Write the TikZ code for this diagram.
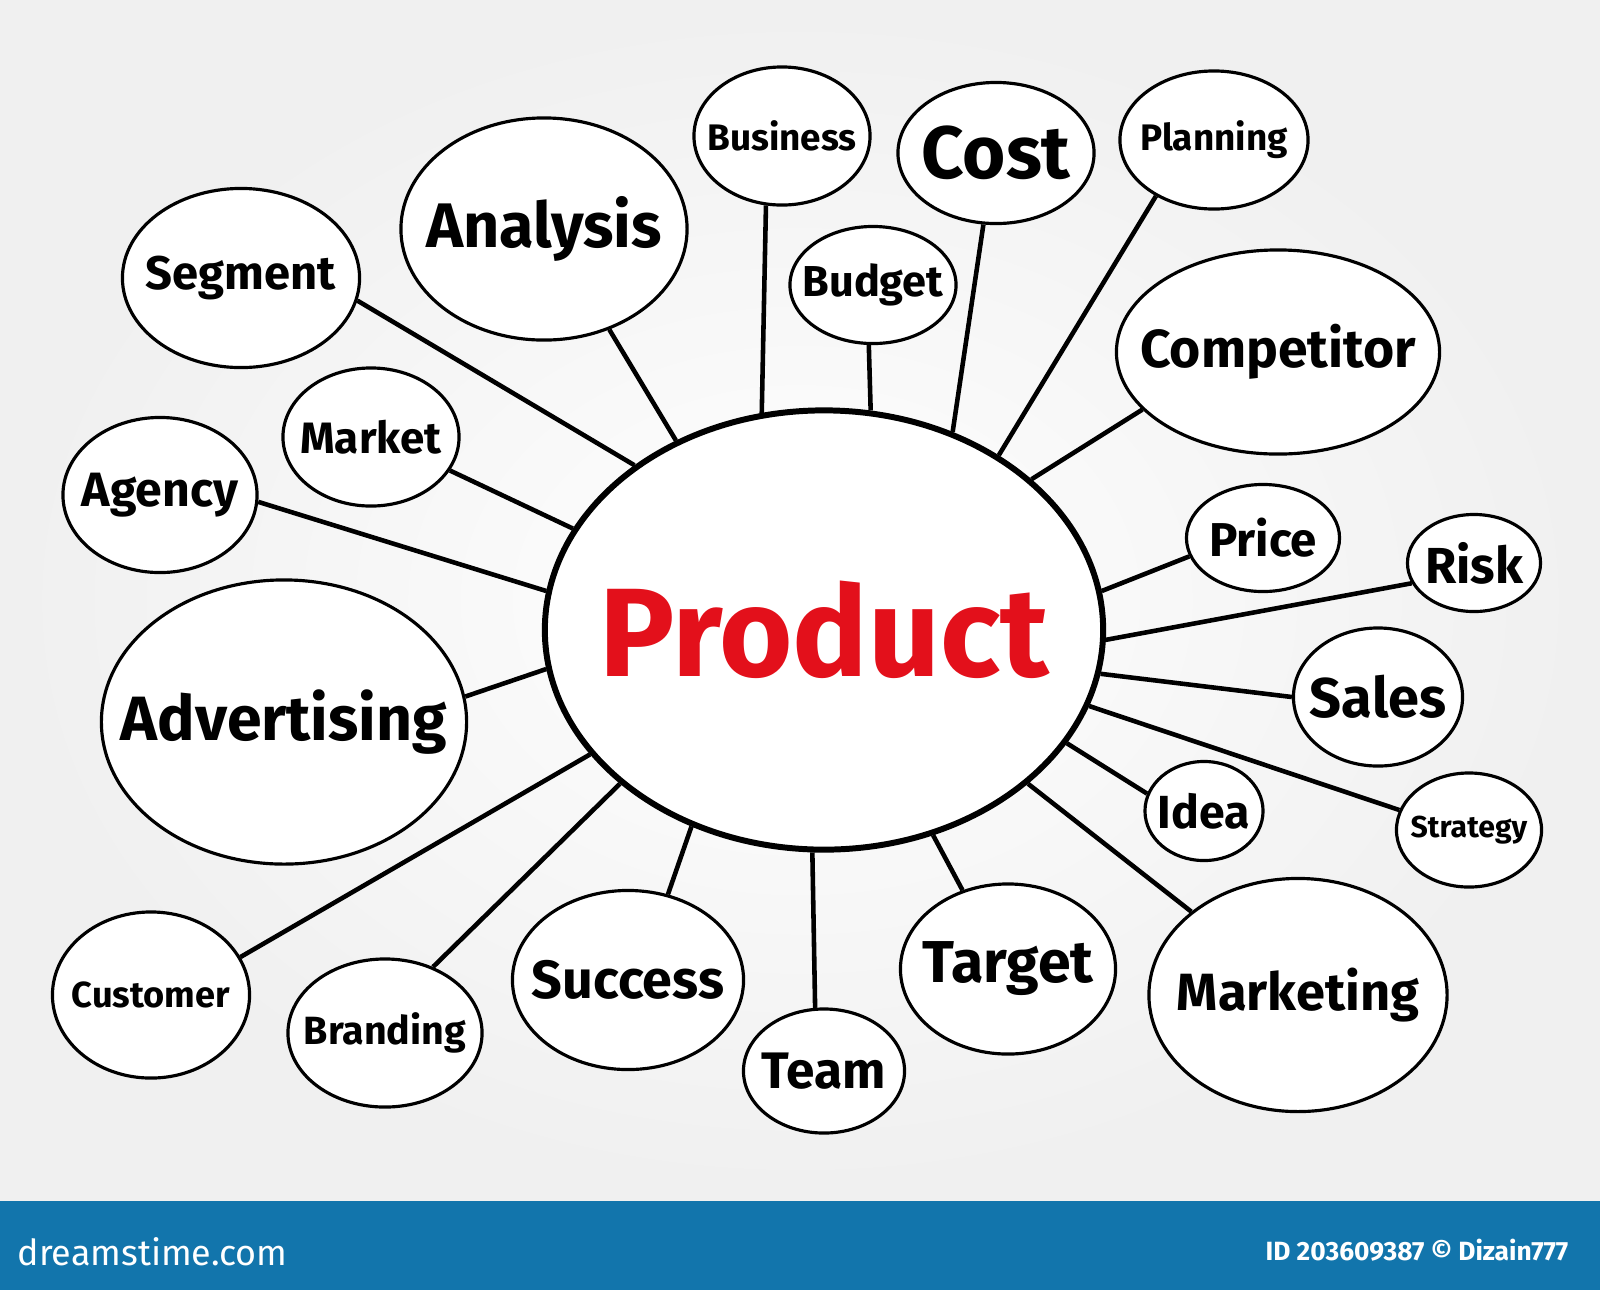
\documentclass[tikz,border=0pt]{standalone}
\usepackage{fontspec}
\setmainfont{Fira Sans}
\usetikzlibrary{calc,
	shapes}

\definecolor{barblue}{HTML}{1275AC}
\definecolor{prodred}{HTML}{E3101B}
\newcommand{\fsz}[1]{\fontsize{#1}{#1}\selectfont\bfseries}
\newcommand{\lbl}[1]{\makebox[0pt]{#1}}

\begin{document}
\begin{tikzpicture}[x=0.01cm,y=-0.01cm]
    \tikzstyle{bubble}=[ellipse,draw,fill=white,line width=0.9pt,inner sep=0pt]
    \tikzstyle{link}=[line width=1.3pt]
    \useasboundingbox (0,0) rectangle (1600,1290);
    \shade[inner color=white,outer color=black!6] (0,0) rectangle (1600,1201);
    \fill[barblue] (0,1201) rectangle (1600,1290);
    % centre
    \node[bubble,line width=1.7pt,minimum width=5.58cm,minimum height=4.39cm,text=prodred,font=\fsz{35.8}] (prod) at (824,630) {\lbl{Product}};
    % upper left
    \node[bubble,minimum width=2.37cm,minimum height=1.79cm,font=\fsz{13.4}] (seg) at (241,278) {\lbl{Segment}};
    \node[bubble,minimum width=2.86cm,minimum height=2.22cm,font=\fsz{17.9}] (anal) at (544,229) {\lbl{Analysis}};
    \node[bubble,minimum width=1.76cm,minimum height=1.38cm,font=\fsz{10.5}] (biz) at (782,136) {\lbl{Business}};
    \node[bubble,minimum width=1.66cm,minimum height=1.17cm,font=\fsz{12.3}] (budg) at (873,285) {\lbl{Budget}};
    \node[bubble,minimum width=1.96cm,minimum height=1.41cm,font=\fsz{21.1}] (cost) at (996,153) {\lbl{Cost}};
    \node[bubble,minimum width=1.88cm,minimum height=1.38cm,font=\fsz{10.5}] (plan) at (1214,140) {\lbl{Planning}};
    \node[bubble,minimum width=3.23cm,minimum height=2.04cm,font=\fsz{15.2}] (comp) at (1278,352) {\lbl{Competitor}};
    \node[bubble,minimum width=1.76cm,minimum height=1.38cm,font=\fsz{12.5}] (mkt) at (371,437) {\lbl{Market}};
    \node[bubble,minimum width=1.94cm,minimum height=1.55cm,font=\fsz{13.7}] (agcy) at (160,495) {\lbl{Agency}};
    \node[bubble,minimum width=3.65cm,minimum height=2.84cm,font=\fsz{17.8}] (adv) at (284,722) {\lbl{Advertising}};
    % right side
    \node[bubble,minimum width=1.53cm,minimum height=1.07cm,font=\fsz{13.5}] (price) at (1263,538) {\lbl{Price}};
    \node[bubble,minimum width=1.33cm,minimum height=0.97cm,font=\fsz{14.4}] (risk) at (1474,563) {\lbl{Risk}};
    \node[bubble,minimum width=1.69cm,minimum height=1.38cm,font=\fsz{15.9}] (sales) at (1378,697) {\lbl{Sales}};
    \node[bubble,minimum width=1.18cm,minimum height=0.99cm,font=\fsz{13.2}] (idea) at (1204,811) {\lbl{Idea}};
    \node[bubble,minimum width=1.45cm,minimum height=1.14cm,font=\fsz{8.6}] (strat) at (1469,830) {\lbl{Strategy}};
    % bottom row
    \node[bubble,minimum width=2.98cm,minimum height=2.33cm,font=\fsz{14.9}] (mktg) at (1298,995) {\lbl{Marketing}};
    \node[bubble,minimum width=2.15cm,minimum height=1.70cm,font=\fsz{16.8}] (tgt) at (1008,969) {\lbl{Target}};
    \node[bubble,minimum width=1.61cm,minimum height=1.24cm,font=\fsz{14.6}] (team) at (824,1071) {\lbl{Team}};
    \node[bubble,minimum width=2.31cm,minimum height=1.79cm,font=\fsz{15.3}] (succ) at (628,980) {\lbl{Success}};
    \node[bubble,minimum width=1.94cm,minimum height=1.48cm,font=\fsz{11.2}] (brand) at (385,1033) {\lbl{Branding}};
    \node[bubble,minimum width=1.97cm,minimum height=1.66cm,font=\fsz{10.3}] (cust) at (151,995) {\lbl{Customer}};
    % spokes
    \draw[link] (seg.-11) -- (prod.139);
    \draw[link] (anal.-57) -- (prod.128);
    \draw[link] (biz.257) -- (prod.106);
    \draw[link] (budg.266) -- (prod.78);
    \draw[link] (cost.260) -- (prod.57);
    \draw[link] (plan.224) -- (prod.45);
    \draw[link] (comp.203) -- (prod.36);
    \draw[link] (mkt.-23) -- (prod.158);
    \draw[link] (agcy.-4) -- (prod.172);
    \draw[link] (adv.8) -- (prod.188);
    \draw[link] (cust.23) -- (prod.208);
    \draw[link] (brand.54) -- (prod.217);
    \draw[link] (succ.65) -- (prod.236);
    \draw[link] (team.98) -- (prod.267);
    \draw[link] (tgt.120) -- (prod.298);
    \draw[link] (mktg.142) -- (prod.323);
    \draw[link] (idea.163) -- (prod.335);
    \draw[link] (strat.164) -- (prod.344);
    \draw[link] (sales.180) -- (prod.351);
    \draw[link] (risk.198) -- (prod.358);
    \draw[link] (price.194) -- (prod.8);
    % footer
    \node[anchor=west,inner sep=0pt,text=white,font=\fontsize{10.2}{10.2}\selectfont] (logo) at (17,1252) {dreamstime.com};
    \node[anchor=east,inner sep=0pt,text=white,font=\fsz{7.5}] (imgid) at (1569,1250) {ID 203609387 © Dizain777};
\end{tikzpicture}
\end{document}
